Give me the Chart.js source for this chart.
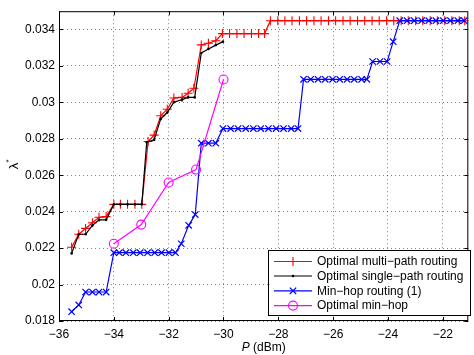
<!DOCTYPE html>
<html><head><meta charset="utf-8">
<script src="https://cdn.jsdelivr.net/npm/chart.js@4"></script>
<style>html,body{margin:0;padding:0;background:#fff;overflow:hidden}#wrap{width:474px;height:355px;position:relative}</style>
</head><body><div id="wrap"><canvas id="c" width="474" height="355"></canvas></div>
<script>
// ---- data ----
const xTicks = [-36, -34, -32, -30, -28, -26, -24, -22];
const yTicks = [0.018, 0.020, 0.022, 0.024, 0.026, 0.028, 0.030, 0.032, 0.034];
const seriesNames = ['Optimal multi\u2212path routing', 'Optimal single\u2212path routing', 'Min\u2212hop routing (1)', 'Optimal min\u2212hop'];

const multiX = [-35.54, -35.28, -35.03, -34.78, -34.54, -34.28, -34.0, -33.76, -33.50, -33.23, -32.98, -32.75, -32.53, -32.29, -32.05, -31.81, -31.51, -31.29, -31.08, -30.81, -30.55, -30.28, -30.04, -29.78, -29.51, -29.25, -28.98, -28.72, -28.50, -28.29, -28.02, -27.76, -27.50, -27.23, -26.97, -26.70, -26.44, -26.17, -25.91, -25.64, -25.38, -25.11, -24.85, -24.58, -24.32, -24.05, -23.79, -23.52, -23.26, -22.99, -22.73, -22.46, -22.20, -21.93, -21.67, -21.40, -21.20];
const multiY = [0.02205, 0.02276, 0.02308, 0.02339, 0.02369, 0.02373, 0.02440, 0.02440, 0.02440, 0.02440, 0.02440, 0.02785, 0.02820, 0.02926, 0.02962, 0.03024, 0.03027, 0.03050, 0.03077, 0.03315, 0.03324, 0.03338, 0.03377, 0.03377, 0.03377, 0.03377, 0.03377, 0.03377, 0.03377, 0.03448, 0.03448, 0.03448, 0.03448, 0.03448, 0.03448, 0.03448, 0.03448, 0.03448, 0.03448, 0.03448, 0.03448, 0.03448, 0.03448, 0.03448, 0.03448, 0.03448, 0.03448, 0.03448, 0.03448, 0.03448, 0.03448, 0.03448, 0.03448, 0.03448, 0.03448, 0.03448, 0.03448];

const singleX = [-35.54, -35.28, -35.03, -34.78, -34.54, -34.28, -34.0, -33.76, -33.50, -33.23, -32.98, -32.80, -32.53, -32.29, -32.05, -31.81, -31.51, -31.29, -31.05, -30.81, -30.55, -30.28, -30.02];
const singleY = [0.02171, 0.02276, 0.02276, 0.02325, 0.02355, 0.02355, 0.02440, 0.02440, 0.02440, 0.02440, 0.02440, 0.02781, 0.02794, 0.02909, 0.02944, 0.03001, 0.03015, 0.03027, 0.03027, 0.03271, 0.03293, 0.03314, 0.03333];

const minhopX = [-35.54, -35.28, -35.03, -34.78, -34.54, -34.28, -34.0, -33.80, -33.56, -33.29, -33.04, -32.77, -32.51, -32.26, -31.99, -31.75, -31.54, -31.27, -31.03, -30.81, -30.55, -30.28, -30.02, -29.74, -29.47, -29.19, -28.91, -28.64, -28.36, -28.08, -27.81, -27.53, -27.28, -27.08, -26.82, -26.55, -26.29, -26.02, -25.76, -25.49, -25.23, -24.96, -24.77, -24.56, -24.29, -24.03, -23.81, -23.57, -23.30, -23.04, -22.77, -22.51, -22.25, -21.98, -21.72, -21.45, -21.22];
const minhopY = [0.01851, 0.01888, 0.01959, 0.01959, 0.01959, 0.01959, 0.02175, 0.02175, 0.02175, 0.02175, 0.02175, 0.02175, 0.02175, 0.02175, 0.02175, 0.02175, 0.02224, 0.02325, 0.02384, 0.02776, 0.02776, 0.02776, 0.02856, 0.02856, 0.02856, 0.02856, 0.02856, 0.02856, 0.02856, 0.02856, 0.02856, 0.02856, 0.02856, 0.03126, 0.03126, 0.03126, 0.03126, 0.03126, 0.03126, 0.03126, 0.03126, 0.03126, 0.03126, 0.03224, 0.03224, 0.03224, 0.03333, 0.03448, 0.03448, 0.03448, 0.03448, 0.03448, 0.03448, 0.03448, 0.03448, 0.03448, 0.03448];

const optMinhopX = [-34, -33, -32, -31, -30];
const optMinhopY = [0.02224, 0.02329, 0.02560, 0.02631, 0.03125];

// ---- chart ----
const zip = (xs, ys) => xs.map((x, i) => ({x: x, y: ys[i]}));
const FONT = '"Liberation Sans", Arial, Helvetica, sans-serif';

const styles = [
  {color: '#ff0000', pointStyle: 'cross', radius: 4.5, bw: 1.1},
  {color: '#000000', pointStyle: 'circle', radius: 1.3, bw: 0},
  {color: '#0000ff', pointStyle: 'crossRot', radius: 4.5, bw: 1.2},
  {color: '#ff00ff', pointStyle: 'circle', radius: 4.5, bw: 1.1}
];

function drawMarker(ctx, st, x, y) {
  ctx.save();
  ctx.strokeStyle = st.color; ctx.fillStyle = st.color; ctx.lineWidth = st.bw || 1;
  ctx.beginPath();
  if (st.pointStyle === 'cross') {
    ctx.moveTo(x - st.radius, y); ctx.lineTo(x + st.radius, y);
    ctx.moveTo(x, y - st.radius); ctx.lineTo(x, y + st.radius); ctx.stroke();
  } else if (st.pointStyle === 'crossRot') {
    const o = st.radius * Math.SQRT1_2;
    ctx.moveTo(x - o, y - o); ctx.lineTo(x + o, y + o);
    ctx.moveTo(x - o, y + o); ctx.lineTo(x + o, y - o); ctx.stroke();
  } else if (st.bw === 0) {
    ctx.arc(x, y, st.radius, 0, Math.PI * 2); ctx.fill();
  } else {
    ctx.arc(x, y, st.radius, 0, Math.PI * 2); ctx.stroke();
  }
  ctx.restore();
}

const framePlugin = {
  id: 'frame',
  afterDatasetsDraw(chart) {
    const {ctx, chartArea: a, scales: {x, y}} = chart;
    ctx.save();
    ctx.strokeStyle = '#000'; ctx.lineWidth = 1;
    ctx.strokeRect(a.left + 0.5, a.top + 0.5, a.right - a.left - 1, a.bottom - a.top - 1);
    ctx.beginPath();
    const tl = 4;
    xTicks.forEach(v => {
      const p = Math.round(x.getPixelForValue(v)) + 0.5;
      ctx.moveTo(p, a.bottom); ctx.lineTo(p, a.bottom - tl);
      ctx.moveTo(p, a.top); ctx.lineTo(p, a.top + tl);
    });
    yTicks.forEach(v => {
      const p = Math.round(y.getPixelForValue(v)) + 0.5;
      ctx.moveTo(a.left, p); ctx.lineTo(a.left + tl, p);
      ctx.moveTo(a.right, p); ctx.lineTo(a.right - tl, p);
    });
    ctx.stroke();
    ctx.restore();
  },
  afterDraw(chart) {
    const {ctx, chartArea: a} = chart;
    ctx.save();
    // legend
    const bx = 268.5, by = 250.5, bw = 202, bh = 65;
    ctx.fillStyle = '#fff'; ctx.fillRect(bx, by, bw, bh);
    ctx.strokeStyle = '#000'; ctx.lineWidth = 1; ctx.strokeRect(bx, by, bw, bh);
    const rows = [261.5, 276, 290.8, 305.6];
    ctx.font = '12px ' + FONT; ctx.textBaseline = 'middle'; ctx.textAlign = 'left';
    seriesNames.forEach((name, i) => {
      const st = styles[i], ry = rows[i];
      ctx.strokeStyle = st.color; ctx.lineWidth = 1.2;
      ctx.beginPath(); ctx.moveTo(274, ry); ctx.lineTo(312, ry); ctx.stroke();
      drawMarker(ctx, st, 293, ry);
      ctx.fillStyle = '#000'; ctx.fillText(name, 317, ry + 0.5);
    });
    // x title: italic P + (dBm)
    const cx = (a.left + a.right) / 2, ty = 347.5;
    ctx.font = 'italic 12px ' + FONT; const wP = ctx.measureText('P').width;
    ctx.font = '12px ' + FONT; const wR = ctx.measureText(' (dBm)').width;
    const sx = cx - (wP + wR) / 2;
    ctx.fillStyle = '#000';
    ctx.font = 'italic 12px ' + FONT; ctx.fillText('P', sx, ty);
    ctx.font = '12px ' + FONT; ctx.fillText(' (dBm)', sx + wP, ty);
    // y title λ*
    ctx.translate(14, 166); ctx.rotate(-Math.PI / 2);
    ctx.font = '13px ' + FONT; ctx.textAlign = 'center'; ctx.textBaseline = 'middle';
    ctx.fillText('\u03bb', 0, 0);
    ctx.font = '8px ' + FONT; ctx.textAlign = 'left';
    ctx.fillText('*', 3.5, -5);
    ctx.restore();
  }
};

const datasets = [
  {label: seriesNames[0], data: zip(multiX, multiY), order: 4},
  {label: seriesNames[1], data: zip(singleX, singleY), order: 3},
  {label: seriesNames[2], data: zip(minhopX, minhopY), order: 2},
  {label: seriesNames[3], data: zip(optMinhopX, optMinhopY), order: 1}
].map((d, i) => Object.assign(d, {
  borderColor: styles[i].color,
  backgroundColor: styles[i].color,
  borderWidth: 1.2,
  pointStyle: styles[i].pointStyle,
  pointRadius: styles[i].radius,
  pointBorderWidth: styles[i].bw,
  pointBorderColor: styles[i].color,
  pointBackgroundColor: i === 3 ? 'rgba(0,0,0,0)' : styles[i].color,
  pointHoverRadius: styles[i].radius,
  tension: 0,
  fill: false
}));

new Chart(document.getElementById('c'), {
  type: 'line',
  data: {datasets: datasets},
  plugins: [framePlugin],
  options: {
    responsive: false,
    devicePixelRatio: 1,
    animation: false,
    layout: {padding: {left: 0, right: 1, top: 0, bottom: 0}},
    plugins: {legend: {display: false}, tooltip: {enabled: false}},
    scales: {
      x: {
        type: 'linear', min: -36, max: -21.07,
        afterBuildTicks: s => { s.ticks = xTicks.map(v => ({value: v})); },
        afterFit: s => { s.height = 34; },
        grid: {color: 'rgba(0,0,0,0.5)', lineWidth: 1, drawTicks: false},
        border: {display: false, dash: [1, 3]},
        ticks: {padding: 6, color: '#000', font: {family: FONT, size: 12}, maxRotation: 0,
          callback: v => String(v).replace('-', '\u2212')}
      },
      y: {
        type: 'linear', min: 0.018, max: 0.035,
        afterBuildTicks: s => { s.ticks = yTicks.map(v => ({value: v})); },
        afterFit: s => { s.width = 59; },
        grid: {color: 'rgba(0,0,0,0.5)', lineWidth: 1, drawTicks: false},
        border: {display: false, dash: [1, 3]},
        ticks: {padding: 4, color: '#000', font: {family: FONT, size: 12},
          callback: v => String(parseFloat(Number(v).toFixed(3)))}
      }
    }
  }
});
</script>
</body></html>
